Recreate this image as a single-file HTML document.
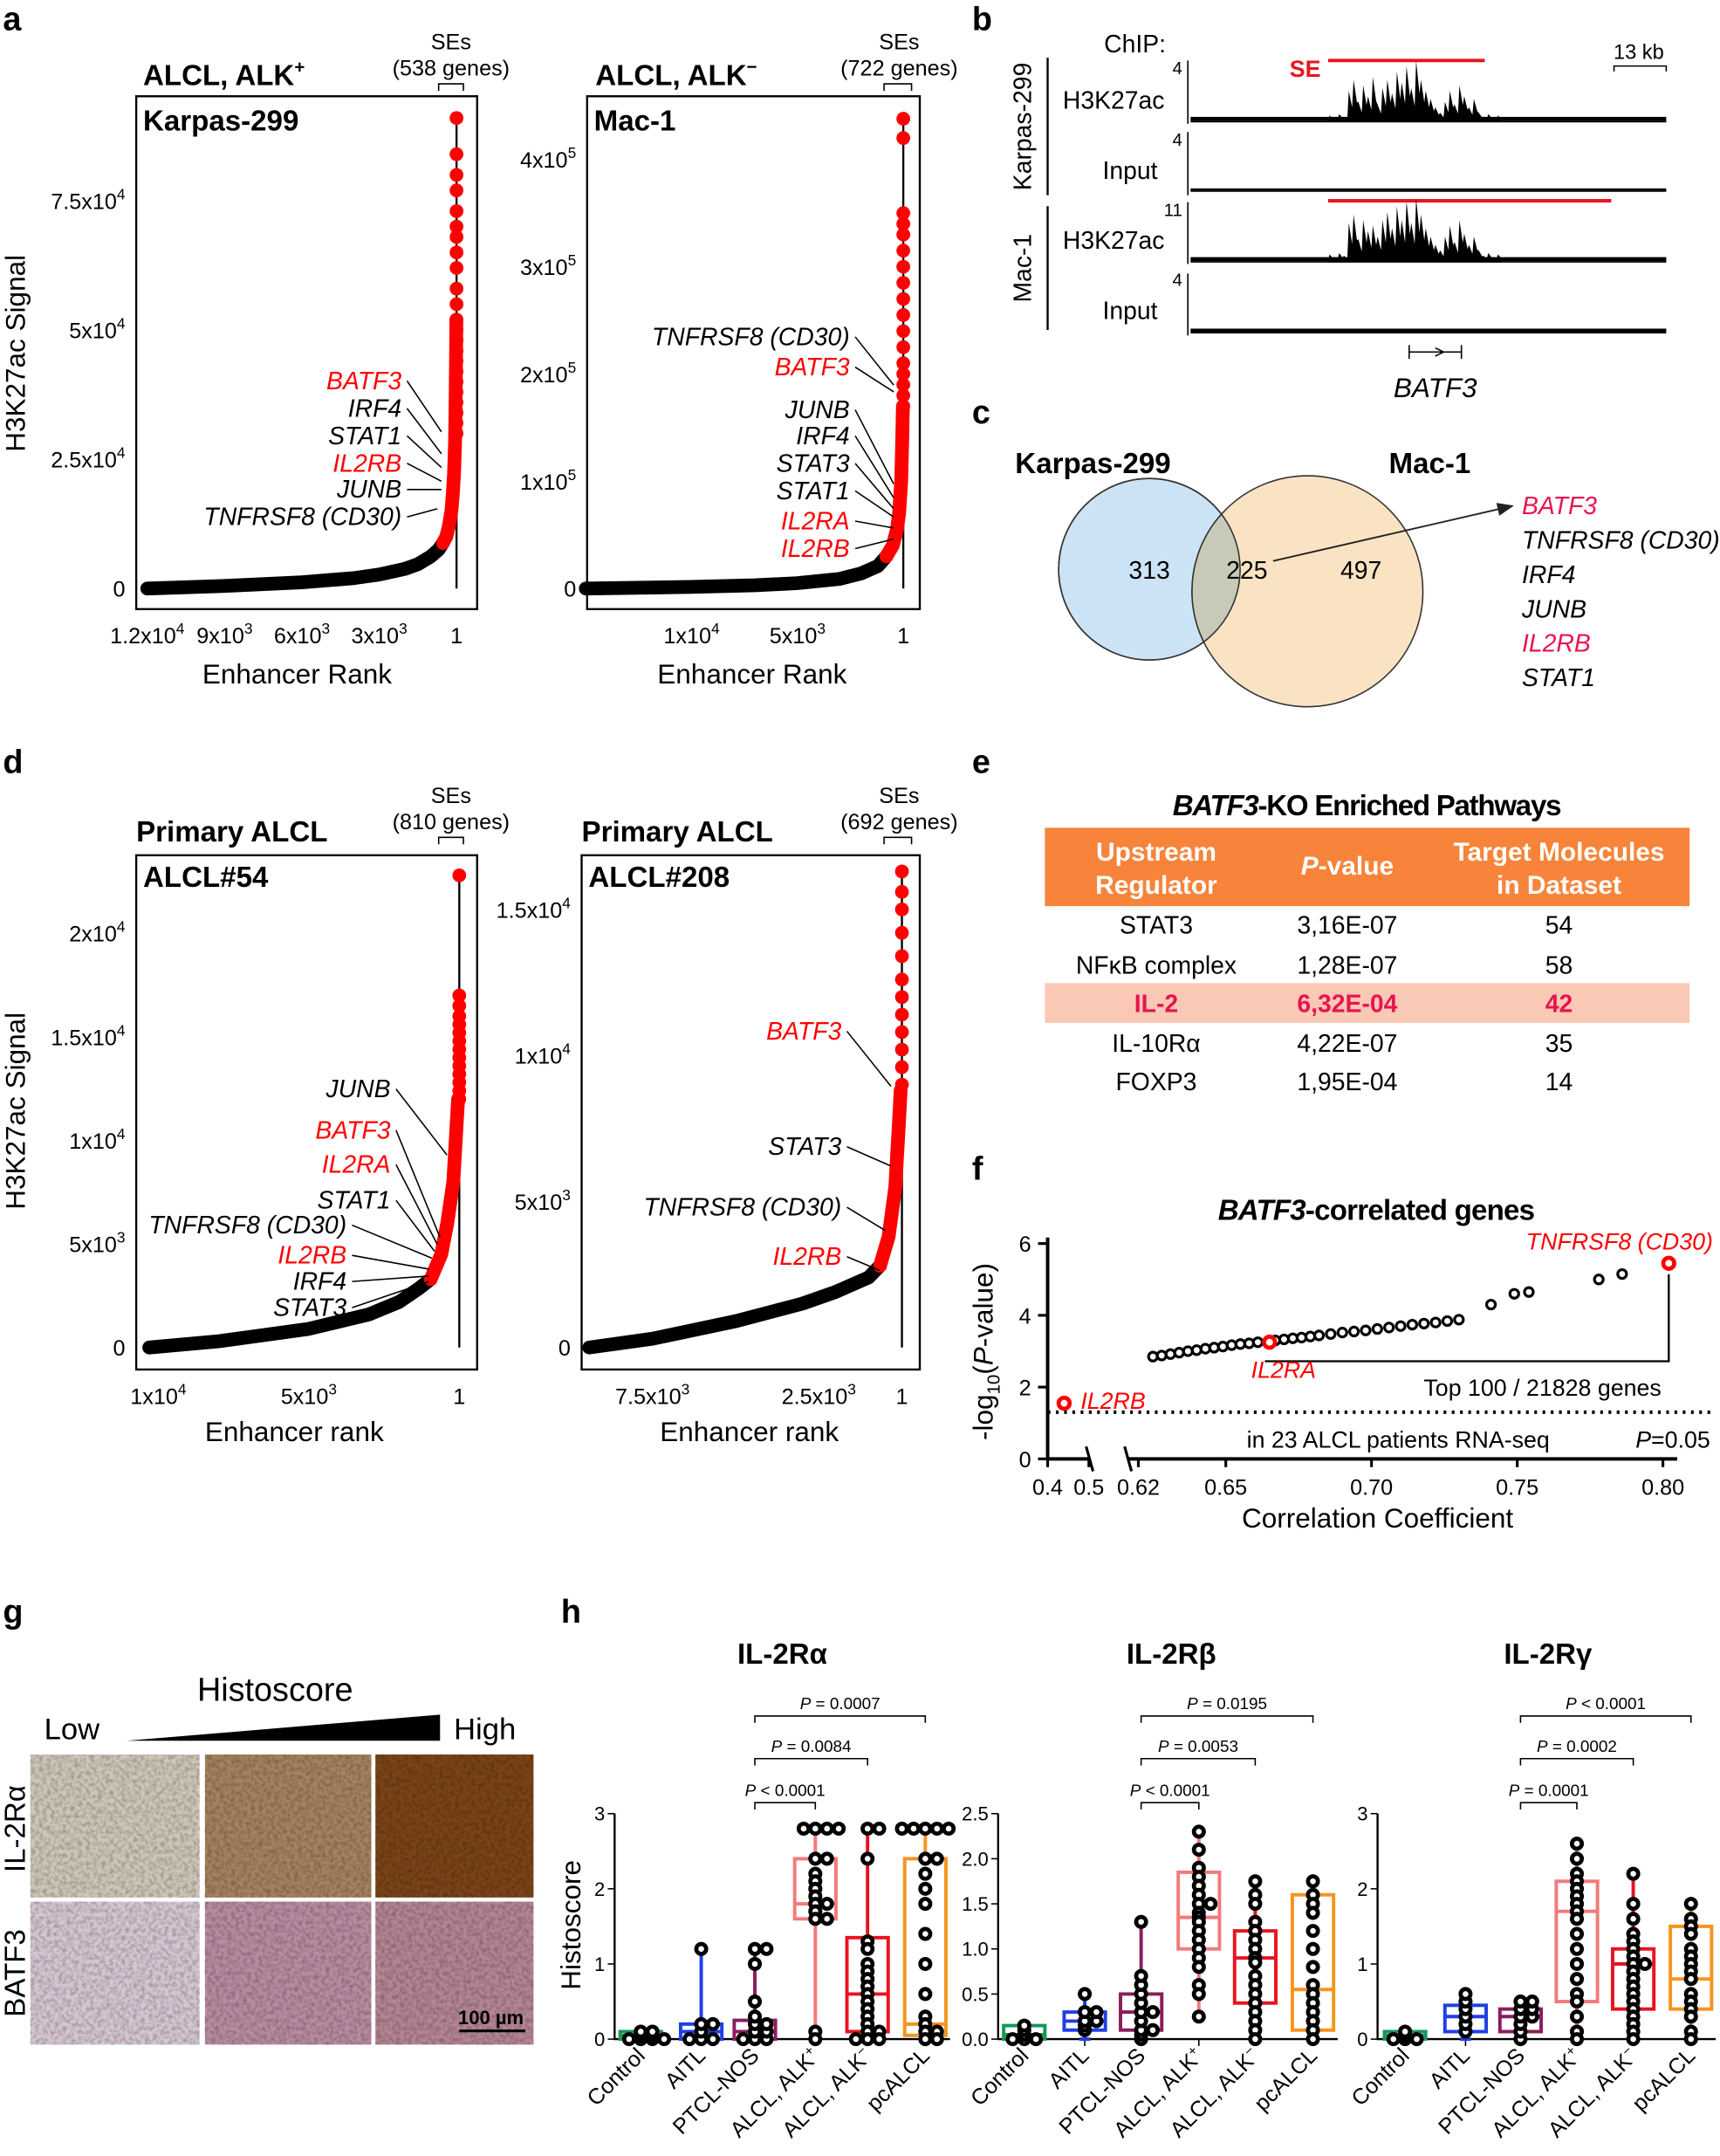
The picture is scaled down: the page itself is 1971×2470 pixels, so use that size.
<!DOCTYPE html>
<html><head><meta charset="utf-8">
<style>
html,body{margin:0;padding:0;background:#fff;}
svg{display:block;font-family:"Liberation Sans",Arial,sans-serif;}
.pl{font-weight:bold;font-size:24px}
.t16{font-size:16px}
.t18{font-size:18px}
.t20{font-size:20px}
.it{font-style:italic}
.red{fill:#e8141e}
</style></head>
<body>
<svg id="fig" width="1971" height="2470" viewBox="0 0 1251 1568" xmlns="http://www.w3.org/2000/svg">
<defs>
<filter id="tex" x="0" y="0" width="100%" height="100%">
<feTurbulence type="fractalNoise" baseFrequency="0.35" numOctaves="2" seed="3"/>
<feColorMatrix type="matrix" values="0 0 0 0 0  0 0 0 0 0  0 0 0 0 0  0 0 0 -1.4 0.9"/>
</filter>
<marker id="arr" markerWidth="10" markerHeight="8" refX="9" refY="4" orient="auto"><path d="M0,0 L10,4 L0,8z" fill="#222"/></marker>
</defs>

<text class="pl" x="2" y="22">a</text>
<text class="pl" x="707" y="22">b</text>
<text class="pl" x="707" y="308">c</text>
<text class="pl" x="2" y="562">d</text>
<text class="pl" x="707" y="562">e</text>
<text class="pl" x="707" y="858">f</text>
<text class="pl" x="2" y="1180">g</text>
<text class="pl" x="408" y="1180">h</text>

<g>
<text x="18" y="257" class="t20" transform="rotate(-90 18 257)" text-anchor="middle">H3K27ac Signal</text>
<text x="104" y="62" style="font-weight:bold;font-size:21px">ALCL, ALK<tspan dy="-9" font-size="13">+</tspan></text>
<text x="433" y="62" style="font-weight:bold;font-size:21px">ALCL, ALK<tspan dy="-9" font-size="13">−</tspan></text>
<rect x="99" y="70" width="248" height="373" fill="none" stroke="#000" stroke-width="1.5"/>
<rect x="427" y="70" width="242" height="373" fill="none" stroke="#000" stroke-width="1.5"/>
<text x="104" y="95" style="font-weight:bold;font-size:21px">Karpas-299</text>
<text x="432" y="95" style="font-weight:bold;font-size:21px">Mac-1</text>
<text x="328" y="36" class="t16" text-anchor="middle">SEs</text>
<text x="328" y="55" class="t16" text-anchor="middle">(538 genes)</text>
<path d="M319,66 v-5 h18 v5" fill="none" stroke="#000"/>
<text x="654" y="36" class="t16" text-anchor="middle">SEs</text>
<text x="654" y="55" class="t16" text-anchor="middle">(722 genes)</text>
<path d="M643,66 v-5 h20 v5" fill="none" stroke="#000"/>
<text x="216" y="497" class="t20" text-anchor="middle">Enhancer Rank</text>
<text x="547" y="497" class="t20" text-anchor="middle">Enhancer Rank</text>
</g>

<g>
<text x="18" y="808" class="t20" transform="rotate(-90 18 808)" text-anchor="middle">H3K27ac Signal</text>
<text x="99" y="612" style="font-weight:bold;font-size:21px">Primary ALCL</text>
<text x="423" y="612" style="font-weight:bold;font-size:21px">Primary ALCL</text>
<rect x="99" y="622" width="248" height="374" fill="none" stroke="#000" stroke-width="1.5"/>
<rect x="423" y="622" width="246" height="374" fill="none" stroke="#000" stroke-width="1.5"/>
<text x="104" y="645" style="font-weight:bold;font-size:21px">ALCL#54</text>
<text x="428" y="645" style="font-weight:bold;font-size:21px">ALCL#208</text>
<text x="328" y="584" class="t16" text-anchor="middle">SEs</text>
<text x="328" y="603" class="t16" text-anchor="middle">(810 genes)</text>
<path d="M319,614 v-5 h18 v5" fill="none" stroke="#000"/>
<text x="654" y="584" class="t16" text-anchor="middle">SEs</text>
<text x="654" y="603" class="t16" text-anchor="middle">(692 genes)</text>
<path d="M643,614 v-5 h20 v5" fill="none" stroke="#000"/>
<text x="214" y="1048" class="t20" text-anchor="middle">Enhancer rank</text>
<text x="545" y="1048" class="t20" text-anchor="middle">Enhancer rank</text>
</g>

<g id="hockeys"></g>

<g>
<text x="803" y="38" class="t18">ChIP:</text>
<text x="750" y="92" class="t18" transform="rotate(-90 750 92)" text-anchor="middle">Karpas-299</text>
<line x1="762" y1="42" x2="762" y2="142" stroke="#000" stroke-width="1.5"/>
<text x="750" y="195" class="t18" transform="rotate(-90 750 195)" text-anchor="middle">Mac-1</text>
<line x1="762" y1="150" x2="762" y2="240" stroke="#000" stroke-width="1.5"/>
<text x="773" y="79" class="t18">H3K27ac</text>
<text x="802" y="130" class="t18">Input</text>
<text x="773" y="181" class="t18">H3K27ac</text>
<text x="802" y="232" class="t18">Input</text>
<g class="t16" style="font-size:13px" text-anchor="end">
<text x="860" y="54">4</text><text x="860" y="106">4</text><text x="860" y="157">11</text><text x="860" y="208">4</text></g>
<g stroke="#000" stroke-width="1"><line x1="864" y1="44" x2="864" y2="90"/><line x1="864" y1="96" x2="864" y2="142"/><line x1="864" y1="147" x2="864" y2="192"/><line x1="864" y1="199" x2="864" y2="244"/></g>
<text x="938" y="56" style="font-weight:bold;font-size:17px" class="red">SE</text>
<line x1="966" y1="44" x2="1080" y2="44" stroke="#e8141e" stroke-width="2.5"/>
<line x1="966" y1="146" x2="1172" y2="146" stroke="#e8141e" stroke-width="2.5"/>
<text x="1192" y="43" style="font-size:15px" text-anchor="middle">13 kb</text>
<path d="M1174,52 v-4 h38 v4" fill="none" stroke="#000"/>
<g id="tracks"></g>
<path d="M1025,256 h38 M1025,251 v10 M1063,251 v10 M1050,256 l-6,-3 M1050,256 l-6,3" stroke="#000" fill="none"/>
<text x="1044" y="289" class="t20 it" text-anchor="middle">BATF3</text>
</g>

<g>
<text x="795" y="344" style="font-weight:bold;font-size:21px" text-anchor="middle">Karpas-299</text>
<text x="1040" y="344" style="font-weight:bold;font-size:21px" text-anchor="middle">Mac-1</text>
<circle cx="836" cy="414" r="66" fill="#cbe3f5" stroke="#333" stroke-width="1"/>
<circle cx="951" cy="430" r="84" fill="#f9e3c3" stroke="#333" stroke-width="1"/>
<clipPath id="vc"><circle cx="836" cy="414" r="66"/></clipPath>
<circle cx="951" cy="430" r="84" fill="#c8cab7" stroke="#333" clip-path="url(#vc)"/>
<circle cx="836" cy="414" r="66" fill="none" stroke="#333" stroke-width="1"/>
<text x="836" y="421" class="t18" text-anchor="middle">313</text>
<text x="907" y="421" class="t18" text-anchor="middle">225</text>
<text x="990" y="421" class="t18" text-anchor="middle">497</text>
<line x1="926" y1="408" x2="1100" y2="368" stroke="#222" stroke-width="1.2" marker-end="url(#arr)"/>
<g class="it t18">
<text x="1107" y="374" fill="#e8144f">BATF3</text>
<text x="1107" y="399">TNFRSF8 (CD30)</text>
<text x="1107" y="424">IRF4</text>
<text x="1107" y="449">JUNB</text>
<text x="1107" y="474" fill="#e8144f">IL2RB</text>
<text x="1107" y="499">STAT1</text>
</g>
</g>

<g>
<text x="994" y="593" text-anchor="middle" style="font-weight:bold;font-size:21px;letter-spacing:-0.8px"><tspan font-style="italic">BATF3</tspan>-KO Enriched Pathways</text>
<rect x="760" y="602" width="469" height="57" fill="#f7843a"/>
<g fill="#fff" style="font-weight:bold;font-size:19px" text-anchor="middle">
<text x="841" y="626">Upstream</text><text x="841" y="650">Regulator</text>
<text x="980" y="636"><tspan font-style="italic">P</tspan>-value</text>
<text x="1134" y="626">Target Molecules</text><text x="1134" y="650">in Dataset</text>
</g>
<rect x="760" y="715" width="469" height="29" fill="#f9c9b5"/>
<g class="t18" text-anchor="middle">
<text x="841" y="679">STAT3</text><text x="980" y="679">3,16E-07</text><text x="1134" y="679">54</text>
<text x="841" y="708">NFκB complex</text><text x="980" y="708">1,28E-07</text><text x="1134" y="708">58</text>
<text x="841" y="736" font-weight="bold" fill="#e8144f">IL-2</text><text x="980" y="736" font-weight="bold" fill="#e8144f">6,32E-04</text><text x="1134" y="736" font-weight="bold" fill="#e8144f">42</text>
<text x="841" y="765">IL-10Rα</text><text x="980" y="765">4,22E-07</text><text x="1134" y="765">35</text>
<text x="841" y="793">FOXP3</text><text x="980" y="793">1,95E-04</text><text x="1134" y="793">14</text>
</g>
</g>

<g>
<text x="1001" y="887" text-anchor="middle" style="font-weight:bold;font-size:21px;letter-spacing:-0.5px"><tspan font-style="italic">BATF3</tspan>-correlated genes</text>
<text x="722" y="983" class="t20" transform="rotate(-90 722 983)" text-anchor="middle">-log<tspan font-size="13" dy="5">10</tspan><tspan dy="-5">(</tspan><tspan font-style="italic">P</tspan>-value)</text>
<text x="1002" y="1111" class="t20" text-anchor="middle">Correlation Coefficient</text>
<g id="scatter"></g>
<text x="1122" y="1015" style="font-size:17px" text-anchor="middle">Top 100 / 21828 genes</text>
<text x="1017" y="1053" style="font-size:17px" text-anchor="middle">in 23 ALCL patients RNA-seq</text>
<text x="1244" y="1053" style="font-size:17px" text-anchor="end"><tspan font-style="italic">P</tspan>=0.05</text>
</g>

<g>
<text x="200" y="1237" style="font-size:24px" text-anchor="middle">Histoscore</text>
<text x="32" y="1265" style="font-size:22px">Low</text>
<text x="330" y="1265" style="font-size:22px">High</text>
<polygon points="92,1266 320,1266 320,1247" fill="#000"/>
<text x="18" y="1330" style="font-size:21px" transform="rotate(-90 18 1330)" text-anchor="middle">IL-2Rα</text>
<text x="18" y="1435" style="font-size:21px" transform="rotate(-90 18 1435)" text-anchor="middle">BATF3</text>
<g id="ihc"></g>
<text x="357" y="1472" style="font-size:14px;font-weight:bold" text-anchor="middle">100 µm</text>
<line x1="334" y1="1477" x2="382" y2="1477" stroke="#000" stroke-width="2"/>
</g>

<g>
<text x="569" y="1210" style="font-weight:bold;font-size:21px" text-anchor="middle">IL-2Rα</text>
<text x="852" y="1210" style="font-weight:bold;font-size:21px" text-anchor="middle">IL-2Rβ</text>
<text x="1126" y="1210" style="font-weight:bold;font-size:21px" text-anchor="middle">IL-2Rγ</text>
<text x="422" y="1400" class="t20" transform="rotate(-90 422 1400)" text-anchor="middle">Histoscore</text>
<g id="boxes"></g>
</g>

<script>
var NS="http://www.w3.org/2000/svg";
function mk(tag,parent,attrs){var e=document.createElementNS(NS,tag);for(var k in attrs)e.setAttribute(k,attrs[k]);parent.appendChild(e);return e;}

var karpasBlackRank=[12000,9000,6000,4000,3000,2000,1500,1000,700,530];
var karpasBlackSignal=[0,500,1200,2000,2700,3800,4700,6200,7500,8800];
var karpasRedRank=[530,400,300,200,150,100,60,40,20,8];
var karpasRedSignal=[8800,10000,12000,15000,18000,22000,28000,35000,45000,52000];
var karpasTopDots=[91000,84000,80000,77000,73000,70000,68000,65000,62000,58000,55000,52000,50000,48000,46000,44000,42000,40000,38000,36000,34000,32000,30000];
var karpasYTicks=[0,25000,50000,75000];
var karpasYLabels=["0","2.5x10^4","5x10^4","7.5x10^4"];
var karpasXTicks=[12000,9000,6000,3000,1];
var karpasXLabels=["1.2x10^4","9x10^3","6x10^3","3x10^3","1"];

var macBlackRank=[15000,10000,7000,5000,3000,2000,1200,800];
var macBlackSignal=[0,1500,3000,5000,9000,14000,21000,30000];
var macRedRank=[800,500,300,200,100,50,20];
var macRedSignal=[30000,40000,55000,70000,100000,140000,170000];
var macTopDots=[438000,420000,350000,340000,330000,315000,300000,285000,270000,255000,240000,225000,210000,200000,190000,180000,170000];
var macYTicks=[0,100000,200000,300000,400000];
var macYLabels=["0","1x10^5","2x10^5","3x10^5","4x10^5"];
var macXTicks=[10000,5000,1];
var macXLabels=["1x10^4","5x10^3","1"];

var a54BlackRank=[10300,8000,5000,3000,2000,1300,950];
var a54BlackSignal=[0,300,900,1600,2200,2900,3300];
var a54RedRank=[950,600,400,200,100,40];
var a54RedSignal=[3300,4500,6000,8000,10500,12000];
var a54TopDots=[22800,17000,16500,16000,15600,15200,14800,14400,14000,13600,13200,12800,12400,12000];
var a54YTicks=[0,5000,10000,15000,20000];
var a54YLabels=["0","5x10^3","1x10^4","1.5x10^4","2x10^4"];
var a54XTicks=[10000,5000,1];
var a54XLabels=["1x10^4","5x10^3","1"];

var a208BlackRank=[9400,7500,5000,3000,2000,1000,660];
var a208BlackSignal=[0,300,900,1500,1900,2400,2800];
var a208RedRank=[660,400,200,100,40];
var a208RedSignal=[2800,3800,5500,7500,8800];
var a208TopDots=[16300,15600,15000,14200,13400,12600,12000,11400,10800,10200,9600,9000];
var a208YTicks=[0,5000,10000,15000];
var a208YLabels=["0","5x10^3","1x10^4","1.5x10^4"];
var a208XTicks=[7500,2500,1];
var a208XLabels=["7.5x10^3","2.5x10^3","1"];

function supText(parent,x,y,label,anchor){
  var t=mk('text',parent,{x:x,y:y,'text-anchor':anchor,'font-size':16});
  var p=label.split('^');
  t.appendChild(document.createTextNode(p[0]));
  if(p[1]){var s=mk('tspan',t,{dy:-7,'font-size':11});s.textContent=p[1];}
  return t;
}
function hockey(name,cfg){
  var g=mk('g',document.getElementById('hockeys'),{});
  
  
  var xs=function(r){return cfg.x1-(r-1)*cfg.kx;};
  var ys=function(v){return cfg.y0-v*cfg.ky;};
  cfg.yt.forEach(function(v,i){
    var t=supText(g,cfg.left-8,ys(v)+6,cfg.yl[i],'end');
    
    
  });
  cfg.xt.forEach(function(v,i){
    var t=supText(g,xs(v),cfg.bottom+25,cfg.xl[i],'middle');
    
    
  });
  var top=cfg.top[0];
  var vl=mk('line',g,{x1:xs(1),y1:ys(0),x2:xs(1),y2:ys(top),stroke:'#000','stroke-width':1.5});
  
  
  var pb=cfg.br.map(function(r,i){return xs(r)+','+ys(cfg.bs[i]);}).join(' ');
  var bl=mk('polyline',g,{points:pb,fill:'none',stroke:'#000','stroke-width':10,'stroke-linecap':'round','stroke-linejoin':'round'});
  
  
  var pr=cfg.rr.map(function(r,i){return xs(r)+','+ys(cfg.rs[i]);}).join(' ');
  var rl=mk('polyline',g,{points:pr,fill:'none',stroke:'#f00','stroke-width':10,'stroke-linecap':'round','stroke-linejoin':'round'});
  
  
  cfg.top.forEach(function(v){
    var c=mk('circle',g,{cx:xs(1),cy:ys(v),r:5,fill:'#f00'});
    
    
  });
  cfg.ann.forEach(function(a){
    var t=mk('text',g,{x:a[0],y:a[1],'text-anchor':'end','font-size':18,'font-style':'italic',fill:a[4]?'#f00':'#000'});
    t.textContent=a[5];
    
    
    var l=mk('line',g,{x1:a[0]+4,y1:a[1]-6,x2:a[2],y2:a[3],stroke:'#000','stroke-width':1});
    
    
  });
}
hockey('karpas',{x1:332,kx:225/12000,y0:428,ky:94/25000,left:99,bottom:443,br:karpasBlackRank,bs:karpasBlackSignal,rr:karpasRedRank,rs:karpasRedSignal,top:karpasTopDots,yt:karpasYTicks,yl:karpasYLabels,xt:karpasXTicks,xl:karpasXLabels,
 ann:[[292,283,321,314,1,'BATF3'],[292,303,321,330,0,'IRF4'],[292,323,321,340,0,'STAT1'],[292,343,321,350,1,'IL2RB'],[292,362,321,356,0,'JUNB'],[292,382,318,370,0,'TNFRSF8 (CD30)']]});
hockey('mac1',{x1:657,kx:154/10000,y0:428,ky:78/100000,left:427,bottom:443,br:macBlackRank,bs:macBlackSignal,rr:macRedRank,rs:macRedSignal,top:macTopDots,yt:macYTicks,yl:macYLabels,xt:macXTicks,xl:macXLabels,
 ann:[[618,251,650,280,0,'TNFRSF8 (CD30)'],[618,273,650,285,1,'BATF3'],[618,304,650,352,0,'JUNB'],[618,323,650,362,0,'IRF4'],[618,343,650,370,0,'STAT3'],[618,363,650,376,0,'STAT1'],[618,385,650,384,1,'IL2RA'],[618,405,650,392,1,'IL2RB']]});
hockey('alcl54',{x1:334,kx:219/10000,y0:980,ky:75.3/5000,left:99,bottom:996,br:a54BlackRank,bs:a54BlackSignal,rr:a54RedRank,rs:a54RedSignal,top:a54TopDots,yt:a54YTicks,yl:a54YLabels,xt:a54XTicks,xl:a54XLabels,
 ann:[[284,798,325,840,0,'JUNB'],[284,828,320,900,1,'BATF3'],[284,853,318,905,1,'IL2RA'],[284,879,316,910,0,'STAT1'],[252,897,314,915,0,'TNFRSF8 (CD30)'],[252,919,312,923,1,'IL2RB'],[252,938,312,928,0,'IRF4'],[252,957,312,932,0,'STAT3']]});
hockey('alcl208',{x1:656,kx:24.2/1000,y0:980,ky:106.2/5000,left:423,bottom:996,br:a208BlackRank,bs:a208BlackSignal,rr:a208RedRank,rs:a208RedSignal,top:a208TopDots,yt:a208YTicks,yl:a208YLabels,xt:a208XTicks,xl:a208XLabels,
 ann:[[612,756,648,790,1,'BATF3'],[612,840,648,848,0,'STAT3'],[612,884,644,895,0,'TNFRSF8 (CD30)'],[612,920,640,924,1,'IL2RB']]});

var karpasChipHeights=[4,2,5,3,22,30,14,26,18,32,12,24,30,20,36,28,40,24,44,30,22,16,10,6,14,22,12,26,18,10,16,6,3,5,2,4];
var mac1ChipHeights=[5,3,6,4,28,34,16,30,22,26,18,30,36,24,40,30,44,28,46,34,24,18,12,8,18,26,14,30,20,12,18,8,4,6,3,5];
function track(name,baseY,heights,x0,x1){
  var g=document.getElementById('tracks');
  var w=(x1-x0)/heights.length;
  var d='M866,'+baseY+' L'+x0+','+baseY;
  heights.forEach(function(h,i){d+=' L'+(x0+i*w+w*0.3)+','+(baseY-h)+' L'+(x0+(i+1)*w)+','+(baseY-h*0.45);});
  d+=' L'+x1+','+baseY+' L1212,'+baseY+' L1212,'+(baseY+1)+' L866,'+(baseY+1)+'z';
  var p=mk('path',g,{d:d,fill:'#000'});
  
  
  var b=mk('rect',g,{x:866,y:baseY-3,width:346,height:3,fill:'#000'});
  
  
}
track('track-h3k27ac-karpas',88,karpasChipHeights,966,1092);
track('track-h3k27ac-mac1',190,mac1ChipHeights,966,1092);
(function(){var g=document.getElementById('tracks');
 var i1=mk('rect',g,{x:866,y:137,width:346,height:2.5,fill:'#000'});
 
 
 var i2=mk('rect',g,{x:866,y:239,width:346,height:3.5,fill:'#000'});
 
 
})();

var corrR=[0.625,0.628,0.631,0.634,0.637,0.640,0.643,0.646,0.649,0.652,0.655,0.658,0.661,0.667,0.670,0.673,0.676,0.679,0.682,0.686,0.690,0.694,0.698,0.702,0.706,0.710,0.714,0.718,0.722,0.726,0.730,0.741,0.749,0.754,0.778,0.786];
var corrLogP=[2.85,2.88,2.92,2.96,3.0,3.03,3.07,3.1,3.13,3.17,3.2,3.22,3.25,3.3,3.33,3.36,3.38,3.41,3.44,3.48,3.52,3.55,3.58,3.62,3.66,3.7,3.74,3.77,3.8,3.84,3.88,4.3,4.6,4.65,5.0,5.15];
var highlightGenes=["TNFRSF8 (CD30)","IL2RA","IL2RB"];
var highlightR=[0.802,0.665,0.44];
var highlightLogP=[5.45,3.25,1.55];
var fYTicks=[0,2,4,6];
var fXTicks=[0.4,0.5,0.62,0.65,0.70,0.75,0.80];
var fXLabels=["0.4","0.5","0.62","0.65","0.70","0.75","0.80"];
var pThreshold=1.3;
(function(){
  var g=document.getElementById('scatter');
  var fx=function(r){return r<=0.55?762+(r-0.4)*300:828+(r-0.62)*2120;};
  var fy=function(v){return 1061-v*26.1;};
  var ax=mk('path',g,{d:'M762,900 V1061 M762,1061 H792 M820,1061 H1220',stroke:'#000','stroke-width':2.5,fill:'none'});
  
  
  var br=mk('path',g,{d:'M790,1052 L795,1070 M818,1052 L823,1070',stroke:'#000','stroke-width':2,fill:'none'});
  
  
  fYTicks.forEach(function(v){
    var l=mk('line',g,{x1:755,x2:762,y1:fy(v),y2:fy(v),stroke:'#000','stroke-width':2});
    
    
    var t=mk('text',g,{x:750,y:fy(v)+6,'text-anchor':'end','font-size':16});t.textContent=v;
    
    
  });
  fXTicks.forEach(function(v,i){
    var l=mk('line',g,{x1:fx(v),x2:fx(v),y1:1061,y2:1067,stroke:'#000','stroke-width':2});
    
    
    var t=mk('text',g,{x:fx(v),y:1087,'text-anchor':'middle','font-size':16});t.textContent=fXLabels[i];
    
    
  });
  var th=mk('line',g,{x1:762,x2:1246,y1:fy(pThreshold),y2:fy(pThreshold),stroke:'#000','stroke-width':2.5,'stroke-dasharray':'2,4'});
  
  
  corrR.forEach(function(r,i){
    var c=mk('circle',g,{cx:fx(r),cy:fy(corrLogP[i]),r:3.2,fill:'#fff',stroke:'#000','stroke-width':2});
    
    
  });
  highlightR.forEach(function(r,i){
    var c=mk('circle',g,{cx:fx(r),cy:fy(highlightLogP[i]),r:4,fill:'#fff',stroke:'#f00','stroke-width':3});
    
    
  });
  var bx=fx(highlightR[0]);
  var bk=mk('path',g,{d:'M'+bx+','+(fy(highlightLogP[0])+8)+' V990 H920',stroke:'#000','stroke-width':1.5,fill:'none'});
  
  
  var lab=[[1246,fy(highlightLogP[0])-10,'end'],[910,fy(highlightLogP[1])+26,'start'],[786,fy(highlightLogP[2])+4,'start']];
  highlightGenes.forEach(function(n,i){
    var t=mk('text',g,{x:lab[i][0],y:lab[i][1],'text-anchor':lab[i][2],'font-size':17,'font-style':'italic',fill:'#f00'});t.textContent=n;
    
    
  });
})();

(function(){
  var g=document.getElementById('ihc');
  var cols=[[22,123],[149,121],[273,115]];
  var rows=[[1276,104],[1383,104]];
  var fills=[["#cfc6b8","#a5825f","#7b4418"],["#d6c6d2","#b98ba1","#b48593"]];
  var names=[["il2ra-low","il2ra-mid","il2ra-high"],["batf3-low","batf3-mid","batf3-high"]];
  rows.forEach(function(r,ri){cols.forEach(function(c,ci){
    var im=mk('rect',g,{x:c[0],y:r[0],width:c[1],height:r[1],fill:fills[ri][ci]});
    
    
    mk('rect',g,{x:c[0],y:r[0],width:c[1],height:r[1],filter:'url(#tex)',opacity:0.35});
  });});
})();

var categories=["Control","AITL","PTCL-NOS","ALCL, ALK+","ALCL, ALK−","pcALCL"];
var il2raStats=[[0,0,0.05,0.1,0.1],[0,0,0.1,0.2,1.2],[0,0,0.1,0.25,1.2],[0,1.6,1.8,2.4,2.8],[0,0.1,0.6,1.35,2.8],[0,0.05,0.2,2.4,2.8]];
var il2rbStats=[[0,0,0.05,0.15,0.15],[0,0.1,0.2,0.3,0.5],[0,0.1,0.3,0.5,1.3],[0.25,1.0,1.35,1.85,2.3],[0,0.4,0.9,1.2,1.75],[0,0.1,0.55,1.6,1.75]];
var il2rgStats=[[0,0,0.05,0.1,0.1],[0,0.1,0.3,0.45,0.6],[0,0.1,0.3,0.4,0.5],[0,0.5,1.7,2.1,2.6],[0,0.4,1.0,1.2,2.2],[0,0.4,0.8,1.5,1.8]];
var il2raDots=[[0,0,0.05,0.05,0.1,0.1,0,0],[0,0,0,0.1,0.2,0.2,1.2],[0,0,0,0.1,0.1,0.2,0.2,0.3,0.5,1.0,1.2,1.2],[2.8,2.8,2.8,2.8,2.4,2.4,2.2,2.1,2.0,1.9,1.8,1.8,1.7,1.6,1.6,0.1,0],[2.8,2.8,2.4,1.3,1.2,1.0,0.9,0.8,0.7,0.6,0.5,0.4,0.3,0.2,0.1,0.1,0,0,0],[2.8,2.8,2.8,2.8,2.8,2.4,2.4,2.2,2.0,1.8,1.4,1.0,0.6,0.3,0.2,0.1,0.1,0,0]];
var il2rbDots=[[0,0,0.05,0.1,0.15,0],[0.1,0.15,0.2,0.2,0.3,0.3,0.5],[0,0.05,0.1,0.1,0.2,0.3,0.3,0.4,0.5,0.6,0.7,1.3],[2.3,2.1,1.9,1.8,1.7,1.6,1.5,1.5,1.4,1.35,1.3,1.2,1.1,1.0,0.9,0.8,0.6,0.5,0.25],[1.75,1.6,1.5,1.3,1.2,1.1,1.0,0.9,0.85,0.7,0.6,0.5,0.4,0.3,0.2,0.1,0],[1.75,1.6,1.5,1.4,1.2,1.0,0.8,0.6,0.5,0.4,0.3,0.2,0.1,0]];
var il2rgDots=[[0,0,0.05,0.1,0],[0.1,0.2,0.3,0.4,0.5,0.6],[0,0.1,0.2,0.3,0.3,0.4,0.4,0.5,0.5],[2.6,2.4,2.2,2.1,2.0,1.9,1.8,1.7,1.6,1.4,1.2,1.0,0.8,0.6,0.5,0.3,0.1,0],[2.2,1.8,1.6,1.4,1.3,1.2,1.1,1.0,1.0,0.9,0.8,0.7,0.6,0.5,0.4,0.3,0.2,0.1,0],[1.8,1.6,1.5,1.4,1.2,1.1,1.0,0.9,0.8,0.6,0.5,0.4,0.3,0.1,0]];
var il2raPvals=["P < 0.0001","P = 0.0084","P = 0.0007"];
var il2rbPvals=["P < 0.0001","P = 0.0053","P = 0.0195"];
var il2rgPvals=["P = 0.0001","P = 0.0002","P < 0.0001"];
var il2raTicks=[0,1,2,3];
var il2rbTicks=[0,0.5,1.0,1.5,2.0,2.5];
var il2rbTickLabels=["0.0","0.5","1.0","1.5","2.0","2.5"];
var il2rgTicks=[0,1,2,3];
var boxColors=["#17985a","#1f3fe6","#8a1d5c","#f47a7a","#e8141e","#f7941d"];

function boxPlot(name,axX,xs,ymax,ticks,tickLabels,stats,dots,pvals){
  var g=mk('g',document.getElementById('boxes'),{});
  
  
  var y=function(v){return 1483-v*(164/ymax);};
  var ax=mk('path',g,{d:'M'+axX+','+y(ymax)+' V1483 H'+(xs[5]+18),stroke:'#000','stroke-width':1.5,fill:'none'});
  
  
  ticks.forEach(function(v,i){
    var l=mk('line',g,{x1:axX-5,x2:axX,y1:y(v),y2:y(v),stroke:'#000'});
    
    
    var t=mk('text',g,{x:axX-7,y:y(v)+5,'text-anchor':'end','font-size':14});t.textContent=tickLabels[i];
    
    
  });
  xs.forEach(function(x,i){
    var s=stats[i],c=boxColors[i];
    var l=mk('line',g,{x1:x,x2:x,y1:1483,y2:1488,stroke:'#000'});
    
    
    var w=mk('path',g,{d:'M'+x+','+y(s[0])+' V'+y(s[4])+' M'+(x-4)+','+y(s[4])+' h8 M'+(x-4)+','+y(s[0])+' h8',stroke:c,'stroke-width':2.5,fill:'none'});
    
    
    var b=mk('rect',g,{x:x-15,y:y(s[3]),width:30,height:Math.max(1,y(s[1])-y(s[3])),fill:'#fff',stroke:c,'stroke-width':2.5});
    
    
    var m=mk('line',g,{x1:x-15,x2:x+15,y1:y(s[2]),y2:y(s[2]),stroke:c,'stroke-width':2.5});
    
    
    var cnt={};
    dots[i].forEach(function(v){
      var k=v.toFixed(2);cnt[k]=(cnt[k]||0)+1;var n=cnt[k]-1;
      var off=(n%2?1:-1)*Math.ceil(n/2)*8.5;
      var d=mk('circle',g,{cx:x+off,cy:y(v),r:3.6,fill:'#fff',stroke:'#000','stroke-width':3});
      
      
    });
    var lab=categories[i];
    var t=mk('text',g,{x:x+4,y:1496,'text-anchor':'end','font-size':16,transform:'rotate(-45 '+(x+4)+' 1496)'});
    if(lab.indexOf('ALK')>0){t.textContent=lab.slice(0,-1);var sp=mk('tspan',t,{dy:-6,'font-size':10});sp.textContent=lab.slice(-1);}
    else t.textContent=lab;
    
    
  });
  var ys=[1311,1279,1248];
  pvals.forEach(function(p,i){
    var x0=xs[2],x1=xs[3+i];
    var b=mk('path',g,{d:'M'+x0+','+(ys[i]+5)+' V'+ys[i]+' H'+x1+' V'+(ys[i]+5),stroke:'#000',fill:'none'});
    
    
    var t=mk('text',g,{x:(x0+x1)/2,y:ys[i]-5,'text-anchor':'middle','font-size':12});
    var it=mk('tspan',t,{'font-style':'italic'});it.textContent='P';
    t.appendChild(document.createTextNode(p.slice(1)));
    
    
  });
}
boxPlot('il2ra',447,[466,510,549,593,631,673],3,il2raTicks,["0","1","2","3"],il2raStats,il2raDots,il2raPvals);
boxPlot('il2rb',726,[745,789,830,872,913,955],2.5,il2rbTicks,il2rbTickLabels,il2rbStats,il2rbDots,il2rbPvals);
boxPlot('il2rg',1002,[1022,1066,1106,1147,1188,1230],3,il2rgTicks,["0","1","2","3"],il2rgStats,il2rgDots,il2rgPvals);
</script>
</svg>
</body></html>
